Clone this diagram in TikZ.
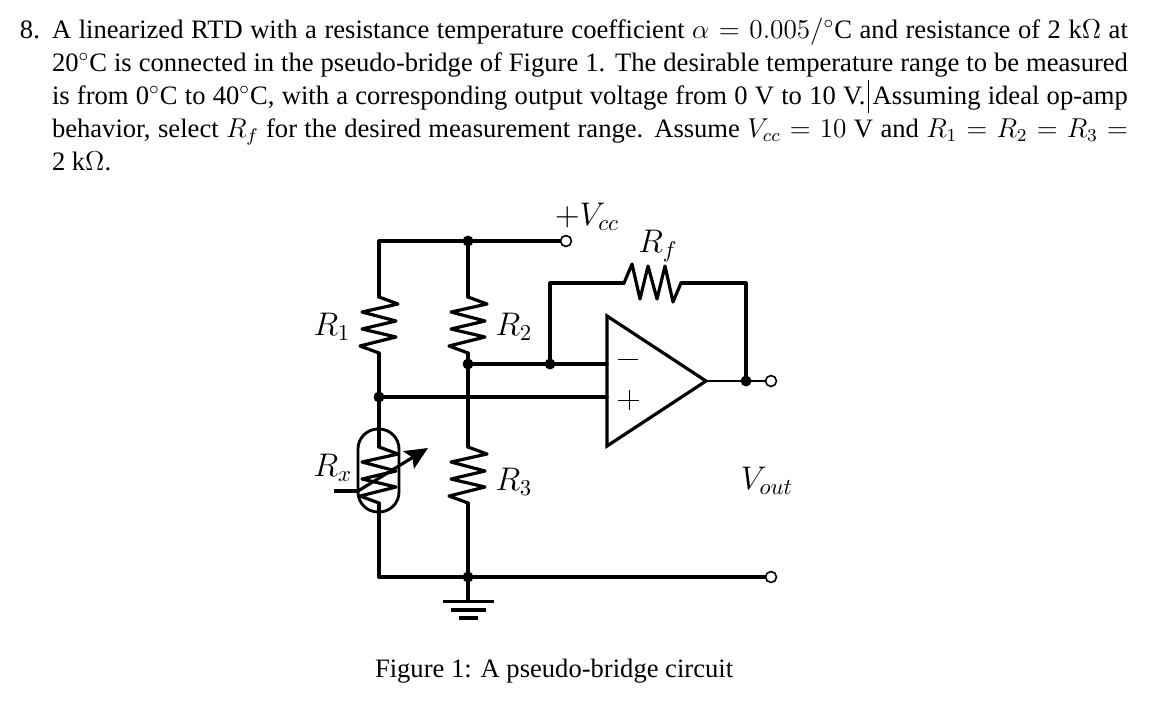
\documentclass[tikz,border=0pt]{standalone}
\usepackage{fontspec}
\setmainfont{Liberation Serif}
\usetikzlibrary{arrows.meta}
\tikzset{
  wire/.style={line width=1.4pt,line cap=round,line join=round},
  thin wire/.style={line width=1.15pt,line join=miter},
  sign/.style={line width=0.4pt},
  dot/.style={circle,fill=black,inner sep=0pt,minimum size=4.8pt},
  port/.style={circle,draw,fill=white,line width=0.7pt,inner sep=0pt,minimum size=4.8pt},
  para/.style={anchor=base west,inner sep=0pt,outer sep=0pt,font=\fontsize{11.7}{13}\selectfont},
  lab/.style={inner sep=0pt,font=\fontsize{14.4}{16}\selectfont},
  vres/.pic={
    \draw[wire] (0,0) -- (19,7) -- (-17,15) -- (17,24) -- (-17,32) -- (17,40) -- (-19,49) -- (0,56);
    \coordinate (-in) at (0,0);
    \coordinate (-out) at (0,56);
  },
}
\begin{document}
\begin{tikzpicture}[x=0.44pt,y=-0.44pt]
\useasboundingbox (0,0) rectangle (1161,714);
% problem text
\node[para] (num) at (20,38) {8.};
\node[para] (l1) at (52,38) {\hbox to 473.4pt{A linearized RTD with a resistance temperature coefficient $\alpha=0.005/^\circ$C and resistance of 2 k$\Omega$ at}};
\node[para] (l2) at (52,71) {\hbox to 473.4pt{20$^\circ$C is connected in the pseudo-bridge of Figure 1. The desirable temperature range to be measured}};
\node[para] (l3) at (52,104) {\hbox to 473.4pt{is from 0$^\circ$C to 40$^\circ$C, with a corresponding output voltage from 0 V to 10 V. Assuming ideal op-amp}};
\node[para] (l4) at (52,137) {\hbox to 473.4pt{behavior, select $R_f$ for the desired measurement range. Assume $V_{cc}=10$ V and $R_1=R_2=R_3=$}};
\node[para] (l5) at (52,170) {2 k$\Omega$.};
\draw[line width=0.4pt] (868,80) -- (868,113);
% coordinates
\coordinate (tl) at (379,241);
\coordinate (jt) at (468,241);
\coordinate (jm) at (379,397);
\coordinate (jn) at (468,364);
\coordinate (jf) at (550,364);
\coordinate (fc) at (550,283);
\coordinate (oc) at (746,283);
\coordinate (jo) at (746,381);
\coordinate (jb) at (468,577);
\coordinate (bl) at (379,577);
\coordinate (gnd) at (468,601);
\coordinate (ominus) at (607,364);
\coordinate (oplus) at (607,397);
\coordinate (oout) at (706,381);
\node[port] (vcc) at (566,241) {};
\node[port] (po) at (771,381) {};
\node[port] (pb) at (771,577) {};
% resistors
\pic (r1) at (379,297) {vres};
\pic (r2) at (468,297) {vres};
\pic (r3) at (468,447) {vres};
\pic (rx) at (379,447) {vres};
% Rf
\coordinate (fi) at (624,283);
\coordinate (fo) at (681,283);
\draw[wire] (fi) -- (632,264) -- (640,299) -- (648,266) -- (657,299) -- (665,266) -- (673,302) -- (fo);
% wires
\draw[wire] (tl) -- (jt);
\draw[wire] (jt) -- (vcc);
\draw[wire] (tl) -- (r1-in);
\draw[wire] (jt) -- (r2-in);
\draw[wire] (r1-out) -- (jm);
\draw[wire] (r2-out) -- (jn);
\draw[wire] (jn) -- (r3-in);
\draw[wire] (jm) -- (rx-in);
\draw[wire] (rx-out) -- (bl);
\draw[wire] (r3-out) -- (jb);
\draw[wire] (bl) -- (jb);
\draw[wire] (jb) -- (pb);
\draw[wire] (jn) -- (ominus);
\draw[wire] (jm) -- (oplus);
\draw[wire] (jf) -- (fc) -- (fi);
\draw[wire] (fo) -- (oc) -- (jo);
\draw[thin wire] (oout) -- (po);
% op-amp
\draw[wire,line join=miter] (607,316) -- (607,446) -- (oout) -- cycle;
\draw[sign] (618,359) -- (638,359);
\draw[sign] (618,400) -- (639,400) (629,390) -- (629,410);
% thermistor capsule and variable arrow
\draw[line width=1.25pt,rounded corners=20*0.44pt] (358,429) rectangle (399,512);
\coordinate (ax) at (334,491);
\coordinate (ab) at (358,491);
\coordinate (at) at (428,448);
\draw[wire,line cap=butt] (ax) -- (ab);
\draw[wire,line cap=butt,-{Stealth[length=10pt,width=9pt,inset=2pt]}] (ab) -- (at);
% ground
\draw[wire] (jb) -- (gnd);
\draw[wire,line cap=butt] (443,601.5) -- (494,601.5);
\draw[wire,line cap=butt] (451,610) -- (486,610);
\draw[wire,line cap=butt] (459,618) -- (478,618);
% junction dots
\foreach \j in {jt,jm,jn,jf,jo,jb} \node[dot] (d\j) at (\j) {};
% labels
\node[lab] (lr1) at (332,327) {$R_1$};
\node[lab] (lr2) at (514,327) {$R_2$};
\node[lab] (lr3) at (514,482) {$R_3$};
\node[lab] (lrx) at (333,468) {$R_x$};
\node[lab] (lrf) at (658,246) {$R_f$};
\node[lab] (lvcc) at (587,217) {$+V_{cc}$};
\node[lab] (lvo) at (767,481) {$V_{out}$};
% caption
\node[para] (cap) at (375,677) {Figure 1: A pseudo-bridge circuit};
\end{tikzpicture}
\end{document}
